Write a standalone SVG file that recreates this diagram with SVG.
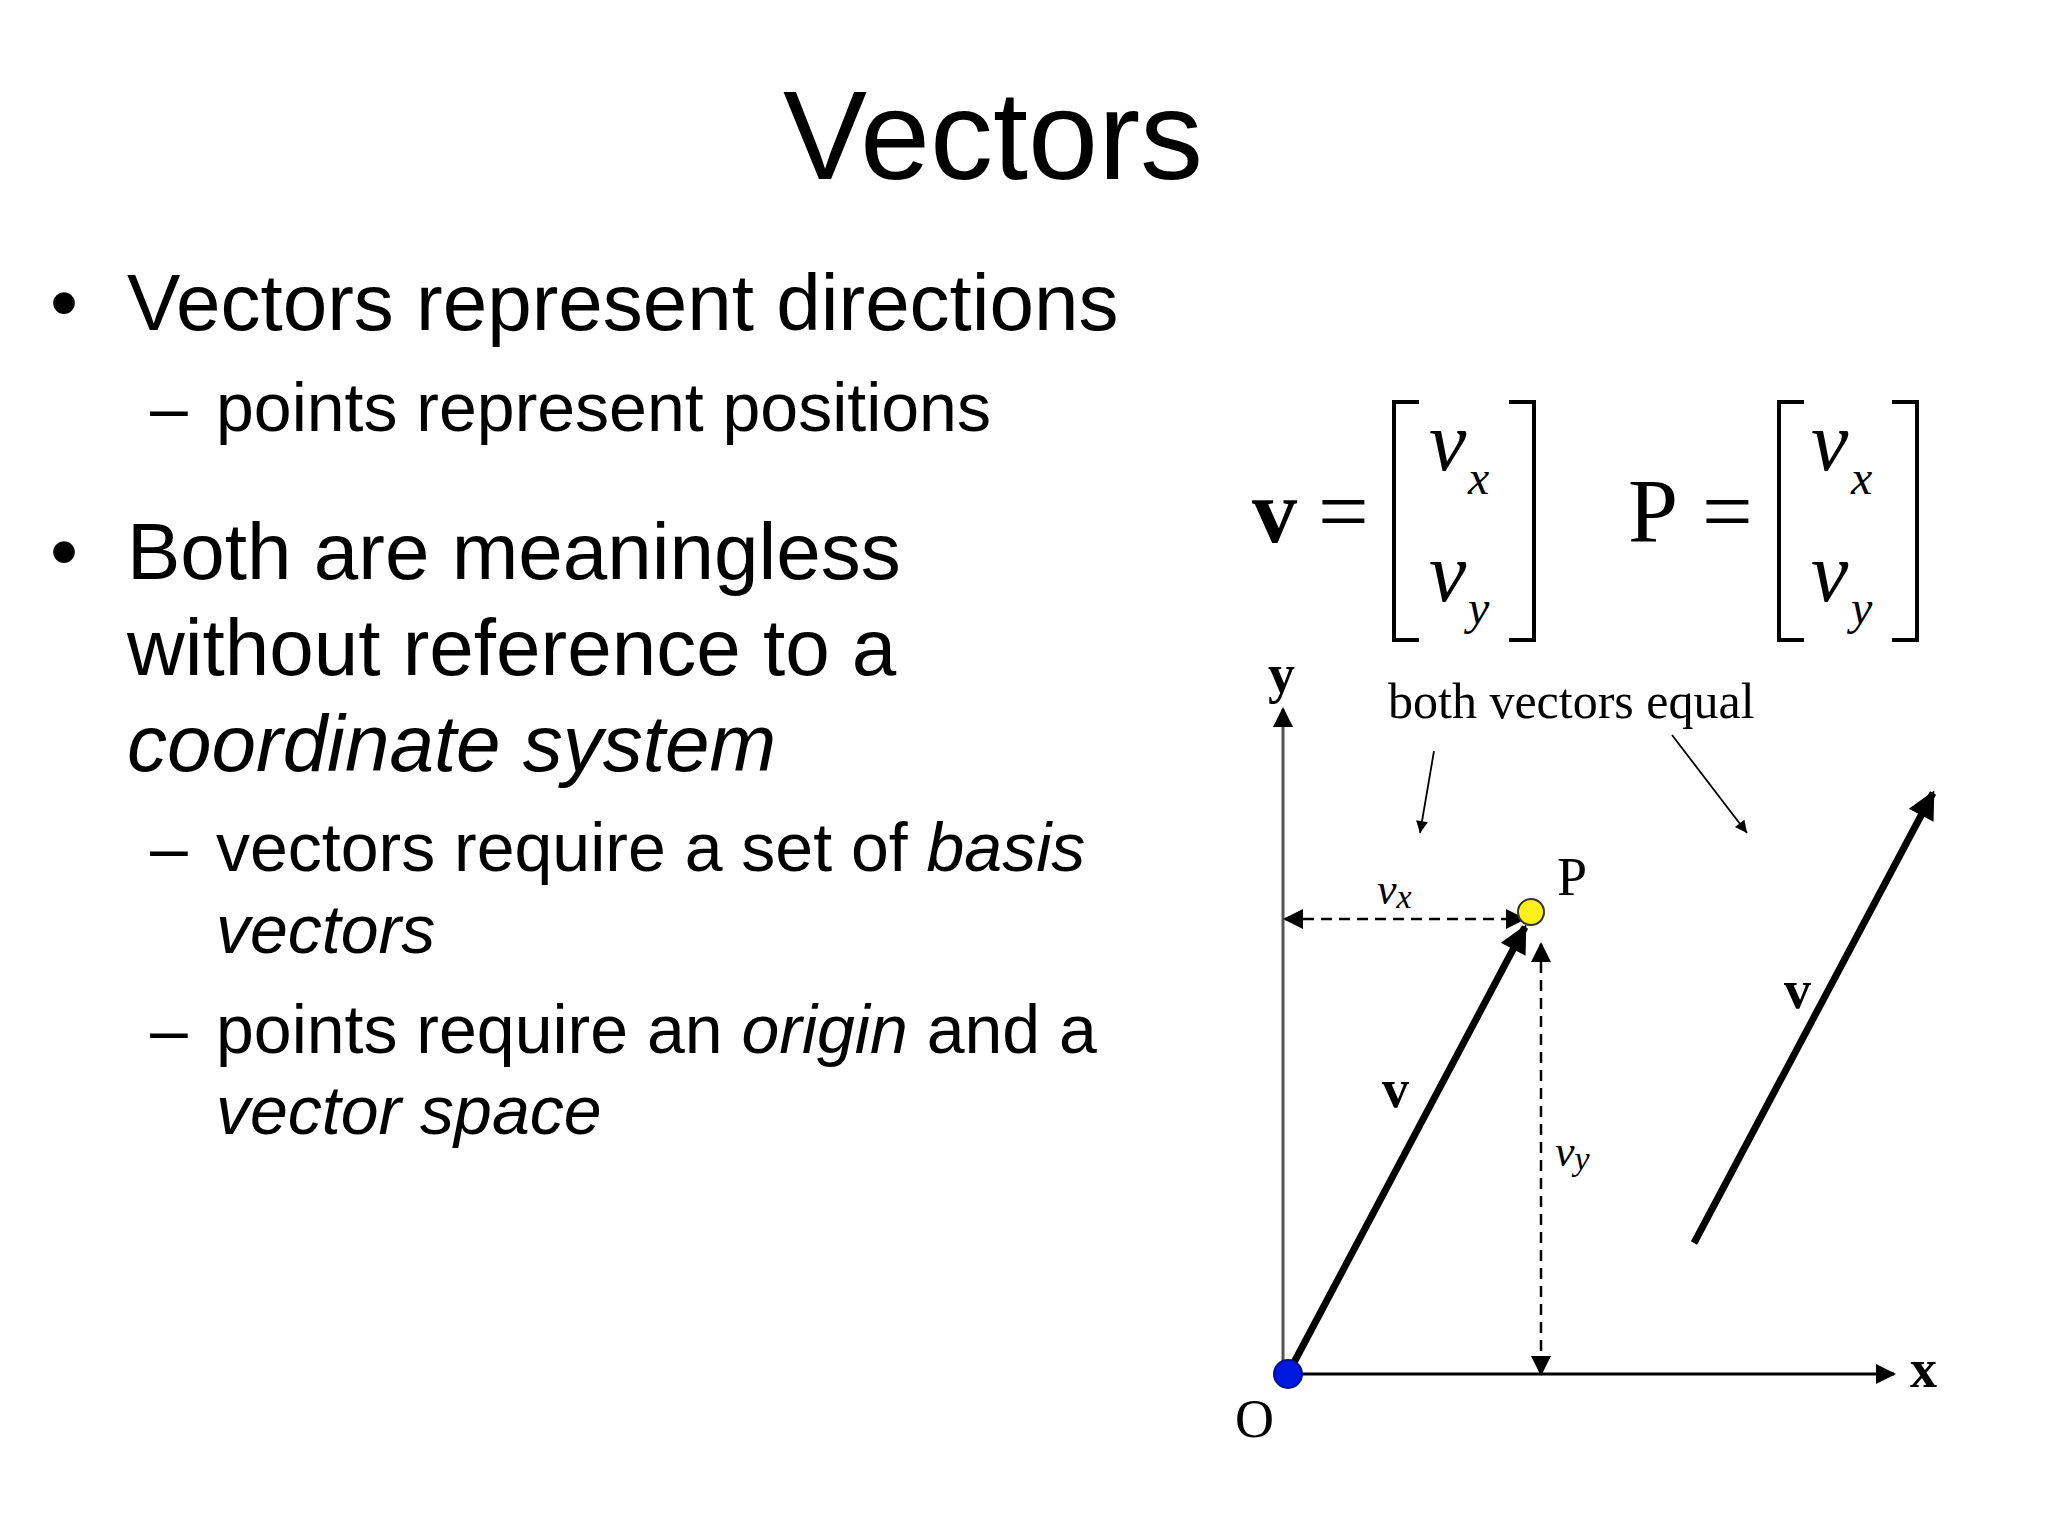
<svg xmlns="http://www.w3.org/2000/svg" width="2048" height="1536" viewBox="0 0 2048 1536">
<defs>
<style>
.s{font-family:"Liberation Sans",Arial,sans-serif;fill:#000}
.t{font-family:"Liberation Serif","Times New Roman",serif;fill:#000}
.b1{font-size:80px}.b2{font-size:68px}
</style>
<marker id="a" viewBox="0 0 10 10" refX="10" refY="5" markerWidth="16" markerHeight="12" markerUnits="userSpaceOnUse" orient="auto-start-reverse"><path d="M0,0L10,5L0,10z" fill="#000"/></marker>
<marker id="ab" viewBox="0 0 10 10" refX="9" refY="5" markerWidth="34" markerHeight="28" markerUnits="userSpaceOnUse" orient="auto-start-reverse"><path d="M0,0L10,5L0,10z" fill="#000"/></marker>
<marker id="al" viewBox="0 0 10 10" refX="9" refY="5" markerWidth="24" markerHeight="20" markerUnits="userSpaceOnUse" orient="auto-start-reverse"><path d="M0,0L10,5L0,10z" fill="#000"/></marker>
</defs>
<rect width="2048" height="1536" fill="#fff"/>
<text class="s" x="993" y="179" font-size="126" text-anchor="middle">Vectors</text>
<g id="text">
<text class="s b1" x="50" y="330">•</text>
<text class="s b1" x="127" y="330">Vectors represent directions</text>
<text class="s b2" x="150" y="431">–</text>
<text class="s b2" x="216" y="431">points represent positions</text>
<text class="s b1" x="50" y="579">•</text>
<text class="s b1" x="127" y="579">Both are meaningless</text>
<text class="s b1" x="127" y="675">without reference to a</text>
<text class="s b1" x="127" y="771" font-style="italic">coordinate system</text>
<text class="s b2" x="150" y="871">–</text>
<text class="s b2" x="216" y="871">vectors require a set of <tspan font-style="italic">basis</tspan></text>
<text class="s b2" x="216" y="953" font-style="italic">vectors</text>
<text class="s b2" x="150" y="1053">–</text>
<text class="s b2" x="216" y="1053">points require an <tspan font-style="italic">origin</tspan> and a</text>
<text class="s b2" x="216" y="1134" font-style="italic">vector space</text>
</g>
<g id="equations">
<text class="t" x="1252" y="542" font-size="90" font-weight="bold">v</text>
<text class="t" x="1318" y="542" font-size="90">=</text>
<path d="M1419,402H1394V640H1419M1509,402H1534V640H1509" fill="none" stroke="#000" stroke-width="4"/>
<text class="t" x="1429" y="470" font-size="84" font-style="italic">v</text>
<text class="t" x="1468" y="494" font-size="48" font-style="italic">x</text>
<text class="t" x="1429" y="601" font-size="84" font-style="italic">v</text>
<text class="t" x="1468" y="624" font-size="48" font-style="italic">y</text>
<text class="t" x="1628" y="542" font-size="90">P</text>
<text class="t" x="1702" y="542" font-size="90">=</text>
<path d="M1804,402H1779V640H1804M1892,402H1917V640H1892" fill="none" stroke="#000" stroke-width="4"/>
<text class="t" x="1811" y="470" font-size="84" font-style="italic">v</text>
<text class="t" x="1851" y="494" font-size="48" font-style="italic">x</text>
<text class="t" x="1811" y="601" font-size="84" font-style="italic">v</text>
<text class="t" x="1851" y="624" font-size="48" font-style="italic">y</text>
</g>
<g id="connectors">
<line x1="1283" y1="1374" x2="1283" y2="709" stroke="#555" stroke-width="3" marker-end="url(#al)"/>
<line x1="1283" y1="1374" x2="1894" y2="1374" stroke="#000" stroke-width="3" marker-end="url(#al)"/>
<line x1="1285" y1="919" x2="1524" y2="919" stroke="#000" stroke-width="2.5" stroke-dasharray="11,7" marker-start="url(#al)" marker-end="url(#al)"/>
<line x1="1541" y1="944" x2="1541" y2="1374" stroke="#000" stroke-width="2.5" stroke-dasharray="11,7" marker-start="url(#al)" marker-end="url(#al)"/>
<line x1="1290" y1="1370" x2="1525" y2="927" stroke="#000" stroke-width="7" marker-end="url(#ab)"/>
<line x1="1694" y1="1243" x2="1933" y2="793" stroke="#000" stroke-width="7" marker-end="url(#ab)"/>
<line x1="1434" y1="751" x2="1420" y2="833" stroke="#000" stroke-width="1.8" marker-end="url(#a)"/>
<line x1="1672" y1="735" x2="1747" y2="833" stroke="#000" stroke-width="1.8" marker-end="url(#a)"/>
</g>
<g id="O"><circle cx="1288" cy="1374" r="14" fill="#0019e0" stroke="#00108a" stroke-width="2"/><text class="t" x="1235" y="1437" font-size="54">O</text></g>
<g id="P"><circle cx="1531" cy="912" r="13" fill="#ffef1a" stroke="#333" stroke-width="2"/><text class="t" x="1557" y="895" font-size="54">P</text></g>
<g id="labels">
<text class="t" x="1268" y="692" font-size="54" font-weight="bold">y</text>
<text class="t" x="1910" y="1387" font-size="54" font-weight="bold">x</text>
<text class="t" x="1388" y="718" font-size="50">both vectors equal</text>
<text class="t" x="1377" y="904" font-size="44" font-style="italic" fill="#444">v<tspan font-size="34" dy="4">x</tspan></text>
<text class="t" x="1555" y="1166" font-size="44" font-style="italic" fill="#444">v<tspan font-size="34" dy="4">y</tspan></text>
<text class="t" x="1382" y="1107" font-size="54" font-weight="bold">v</text>
<text class="t" x="1784" y="1008" font-size="54" font-weight="bold">v</text>
</g>
</svg>
